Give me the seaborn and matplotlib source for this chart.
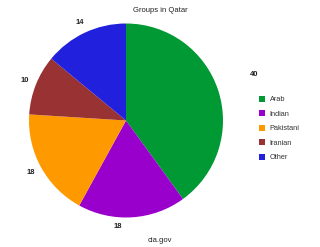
import matplotlib
matplotlib.use("Agg")
import matplotlib.pyplot as plt
import seaborn as sns
from matplotlib.patches import Patch

groups = ["Arab", "Indian", "Pakistani", "Iranian", "Other"]
values = [40, 18, 18, 10, 14]
colors = ["#009933", "#9900CC", "#FF9900", "#993333", "#2020DD"]
title = "Groups in Qatar"
source = "cia.gov"

sns.set_theme(style="white")
plt.rcParams["font.family"] = ["Liberation Sans", "DejaVu Sans"]

fig = plt.figure(figsize=(3.2, 2.47), dpi=100)
ax = fig.add_axes([(126 - 97) / 320, (247 - 120.5 - 97) / 247, 194 / 320, 194 / 247])
wedges, texts = ax.pie(values, colors=colors, startangle=90, counterclock=False,
                       labels=[str(v) for v in values], labeldistance=1.12,
                       wedgeprops=dict(linewidth=0),
                       textprops=dict(fontsize=5.5, fontweight="bold", color="#222222"))
ax.set_xlim(-1, 1)
ax.set_ylim(-1, 1)
for t in texts:
    t.set_ha("center")
    t.set_va("center")
# label placement tweaks (Google-chart style outside labels)
x, y = texts[0].get_position()
texts[0].set_position((x * 1.24, y * 1.38))
x, y = texts[1].get_position()
texts[1].set_position((x - 0.155, y + 0.03))
ax.set_aspect("equal")

fig.text(0.5, 1 - 10 / 247, title, ha="center", va="center", fontsize=5.5, color="#222222")
fig.text(0.5, 1 - 240 / 247, source, ha="center", va="center", fontsize=5.5, color="#222222")

handles = [Patch(facecolor=c, edgecolor="none") for c in colors]
fig.legend(handles, groups, loc="upper left", bbox_to_anchor=(252 / 320, 1 - 89 / 247),
           frameon=False, fontsize=5.3, handlelength=0.9, handleheight=0.9,
           labelspacing=0.94, handletextpad=0.6, labelcolor="#333333")

fig.savefig("out.png", dpi=100)
